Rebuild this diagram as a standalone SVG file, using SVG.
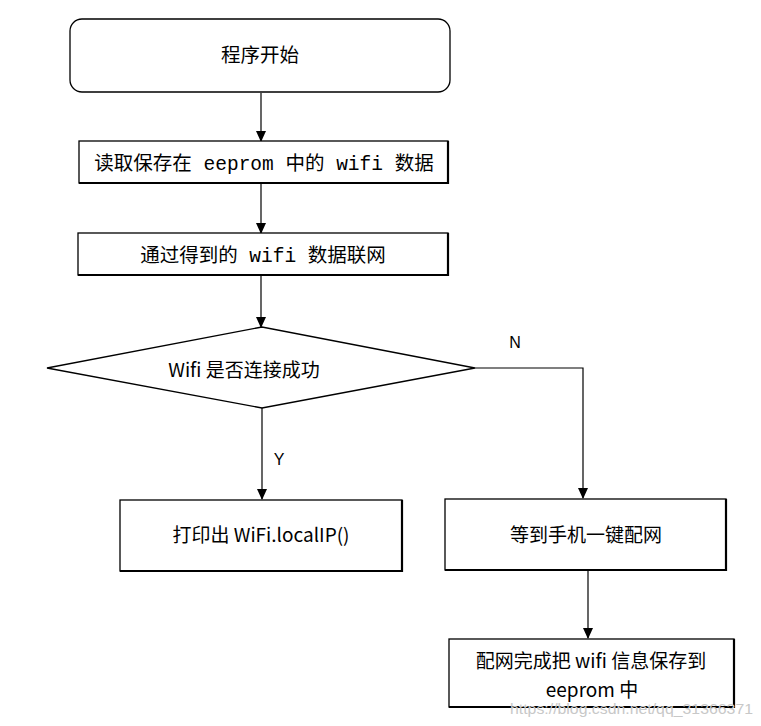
<svg xmlns="http://www.w3.org/2000/svg" width="761" height="726" viewBox="0 0 761 726">
<style>
.box{fill:#fff;stroke:#000;stroke-width:1.3}
.sh{stroke:#000;stroke-width:2.2;fill:none}
.ln{stroke:#000;stroke-width:1.2;fill:none}
.serif{font-family:"Liberation Mono","Noto Sans CJK SC",monospace;font-size:19.5px;fill:#000}
.cjk{font-family:"Noto Sans CJK SC","Noto Sans CJK SC",sans-serif;font-size:19px;fill:#000}
.lbl{font-family:"Liberation Sans",Arial,sans-serif;font-size:16px;fill:#000}
.wm{font-family:"Liberation Sans",Arial,sans-serif;font-size:14px;fill:#c8c8c8}
</style>
<defs>
<marker id="ah" markerWidth="12" markerHeight="12" refX="10" refY="5" orient="auto" markerUnits="userSpaceOnUse">
<path d="M0,0 L11,5 L0,10 Z" fill="#000"/>
</marker>
</defs>
<rect width="761" height="726" fill="#fff"/>
<g id="connectors">
<line class="ln" x1="261" y1="93" x2="261" y2="141" marker-end="url(#ah)"/>
<line class="ln" x1="261" y1="184" x2="261" y2="233" marker-end="url(#ah)"/>
<line class="ln" x1="261" y1="276" x2="261" y2="327" marker-end="url(#ah)"/>
<line class="ln" x1="262" y1="408" x2="262" y2="499" marker-end="url(#ah)"/>
<polyline class="ln" points="475,368 583,368 583,498" marker-end="url(#ah)"/>
<line class="ln" x1="588" y1="571" x2="588" y2="638" marker-end="url(#ah)"/>
<text class="lbl" x="515" y="348" text-anchor="middle">N</text>
<text class="lbl" x="279" y="465" text-anchor="middle">Y</text>
</g>
<g id="start">
<rect class="box" x="70" y="19" width="380" height="73" rx="12"/>
<text class="serif" x="260" y="62" text-anchor="middle">程序开始</text>
</g>
<g id="read">
<rect class="box" x="79" y="141" width="369" height="42"/>
<polyline class="sh" points="79,183 448,183 448,141"/>
<text class="serif" x="264" y="170" text-anchor="middle">读取保存在 eeprom 中的 wifi 数据</text>
</g>
<g id="connect">
<rect class="box" x="78" y="233" width="370" height="42"/>
<polyline class="sh" points="78,275 448,275 448,233"/>
<text class="serif" x="263" y="262" text-anchor="middle">通过得到的 wifi 数据联网</text>
</g>
<g id="decision">
<polygon class="box" points="47,368 262,327 475,368 262,408"/>
<text class="cjk" x="244" y="377" text-anchor="middle">Wifi 是否连接成功</text>
</g>
<g id="printip">
<rect class="box" x="120" y="500" width="282" height="71"/>
<polyline class="sh" points="120,571 402,571 402,500"/>
<text class="cjk" x="261" y="542" text-anchor="middle">打印出 WiFi.localIP()</text>
</g>
<g id="smartconfig">
<rect class="box" x="445" y="499" width="281" height="71"/>
<polyline class="sh" points="445,570 726,570 726,499"/>
<text class="cjk" x="586" y="542" text-anchor="middle">等到手机一键配网</text>
</g>
<g id="save">
<rect class="box" x="449" y="639" width="285" height="68"/>
<polyline class="sh" points="449,707 734,707 734,639"/>
<text class="cjk" x="591" y="668" text-anchor="middle">配网完成把 wifi 信息保存到</text>
<text class="cjk" x="592" y="697" text-anchor="middle">eeprom 中</text>
</g>
<text class="wm" x="510" y="714" textLength="243" lengthAdjust="spacingAndGlyphs">https://blog.csdn.net/qq_31366371</text>
</svg>
